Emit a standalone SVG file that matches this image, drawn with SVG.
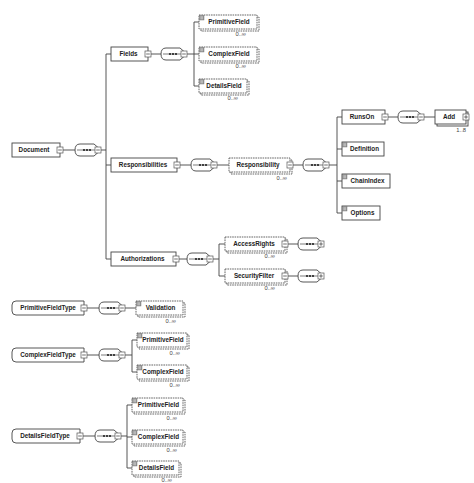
<svg xmlns="http://www.w3.org/2000/svg" xmlns:xlink="http://www.w3.org/1999/xlink" width="474" height="483" viewBox="0 0 474 483">
<style>
.bg{fill:#fff}
.el{fill:#fff;stroke:#444;stroke-width:0.9}
.opt{fill:#fff;stroke:#555;stroke-width:0.9;stroke-dasharray:1.6,0.8}
.ct{fill:#fff;stroke:#444;stroke-width:0.9}
.lbl{font-family:"Liberation Sans",Arial,sans-serif;font-weight:bold;font-size:6.3px;fill:#222;text-anchor:middle}
.occ{font-family:"Liberation Sans",Arial,sans-serif;font-size:5.8px;fill:#444;text-anchor:end}
.cn{fill:none;stroke:#444;stroke-width:0.9}
</style>
<defs>
<g id="minus"><rect x="-3" y="-3" width="6" height="6" fill="#fff" stroke="#555" stroke-width="0.7"/><path d="M-1.8,0H1.8" stroke="#333" stroke-width="0.7"/></g>
<g id="plus"><rect x="-3" y="-3" width="6" height="6" fill="#fff" stroke="#555" stroke-width="0.7"/><path d="M-1.8,0H1.8M0,-1.8V1.8" stroke="#333" stroke-width="0.7"/></g>
<g id="seqbody"><path d="M5,-6H19L23,-2.5V2.5L19,6H5Q0,6 0,0Q0,-6 5,-6Z" fill="#fff" stroke="#444" stroke-width="0.9"/><path d="M2,0H21" stroke="#444" stroke-width="0.7"/><circle cx="9" cy="0" r="1.1" fill="#222"/><circle cx="12" cy="0" r="1.1" fill="#222"/><circle cx="15" cy="0" r="1.1" fill="#222"/></g>
<g id="seq"><use xlink:href="#seqbody"/><use xlink:href="#minus" x="23"/></g>
<g id="seqc"><use xlink:href="#seqbody"/><use xlink:href="#plus" x="23"/></g>
<g id="ico"><rect x="0" y="0" width="4.5" height="4.5" fill="#999" stroke="#666" stroke-width="0.4"/><path d="M1,1.3H3.5M1,2.3H3.5M1,3.3H3.5" stroke="#eee" stroke-width="0.4"/></g>
</defs>
<rect class="bg" width="474" height="483"/>

<g id="connectors">
<path class="cn" d="M63,150H75M101,150H106M106,54V259M106,54H111M106,165H111M106,259H111"/>
<path class="cn" d="M151,54H161M187,54H194M194,22V86M194,22H199M194,54H199M194,86H199"/>
<path class="cn" d="M180,165H191M217,165H229M293,165H303M329,165H337M337,117V213M337,117H342M337,149H342M337,181H342M337,213H342"/>
<path class="cn" d="M388,117H398M424,117H435"/>
<path class="cn" d="M179,259H187M213,259H219M219,244V276M219,244H225M219,276H225M288,244H298M288,276H298"/>
<path class="cn" d="M87,308H99M125,308H136"/>
<path class="cn" d="M87,355H99M125,355H132M132,340V372M132,340H137M132,372H137"/>
<path class="cn" d="M83,436H95M121,436H127M127,405V468M127,405H132M127,437H132M127,468H132"/>
</g>

<g id="Document"><rect class="el" x="12" y="143" width="48" height="14"/><text class="lbl" x="34" y="152.3">Document</text><use xlink:href="#minus" x="60" y="150"/></g>
<g id="seq-Document"><use xlink:href="#seq" x="75" y="150"/></g>

<g id="Fields"><rect class="el" x="111" y="47" width="37" height="14"/><text class="lbl" x="128.5" y="56.3">Fields</text><use xlink:href="#minus" x="148" y="54"/></g>
<g id="seq-Fields"><use xlink:href="#seq" x="161" y="54"/></g>
<g id="Fields-PrimitiveField"><rect class="opt" x="201" y="17" width="58" height="14"/><rect class="opt" x="199" y="15" width="58" height="14"/><use xlink:href="#ico" x="199.5" y="15.5"/><text class="lbl" x="229" y="24.3">PrimitiveField</text><text class="occ" x="246" y="36">0..∞</text></g>
<g id="Fields-ComplexField"><rect class="opt" x="201" y="49" width="58" height="14"/><rect class="opt" x="199" y="47" width="58" height="14"/><use xlink:href="#ico" x="199.5" y="47.5"/><text class="lbl" x="229" y="56.3">ComplexField</text><text class="occ" x="246" y="68">0..∞</text></g>
<g id="Fields-DetailsField"><rect class="opt" x="201" y="81" width="48" height="14"/><rect class="opt" x="199" y="79" width="48" height="14"/><use xlink:href="#ico" x="199.5" y="79.5"/><text class="lbl" x="224" y="88.3">DetailsField</text><text class="occ" x="238" y="100">0..∞</text></g>

<g id="Responsibilities"><rect class="el" x="111" y="158" width="66" height="14"/><text class="lbl" x="143" y="167.3">Responsibilities</text><use xlink:href="#minus" x="177" y="165"/></g>
<g id="seq-Responsibilities"><use xlink:href="#seq" x="191" y="165"/></g>
<g id="Responsibility"><rect class="opt" x="231" y="160" width="61" height="14"/><rect class="opt" x="229" y="158" width="61" height="14"/><text class="lbl" x="258" y="167.3">Responsibility</text><use xlink:href="#minus" x="290" y="165"/><text class="occ" x="287" y="180">0..∞</text></g>
<g id="seq-Responsibility"><use xlink:href="#seq" x="303" y="165"/></g>

<g id="RunsOn"><rect class="el" x="342" y="110" width="43" height="14"/><text class="lbl" x="362" y="119.3">RunsOn</text><use xlink:href="#minus" x="385" y="117"/></g>
<g id="seq-RunsOn"><use xlink:href="#seq" x="398" y="117"/></g>
<g id="Add"><rect class="el" x="437" y="112" width="31" height="14"/><rect class="el" x="435" y="110" width="31" height="14"/><text class="lbl" x="449" y="119.3">Add</text><use xlink:href="#plus" x="466" y="117"/><text class="occ" x="466" y="132">1..8</text></g>
<g id="Definition"><rect class="el" x="342" y="142" width="42" height="14"/><use xlink:href="#ico" x="342.5" y="142.5"/><text class="lbl" x="364.5" y="151.3">Definition</text></g>
<g id="ChainIndex"><rect class="el" x="342" y="174" width="48" height="14"/><use xlink:href="#ico" x="342.5" y="174.5"/><text class="lbl" x="367.5" y="183.3">ChainIndex</text></g>
<g id="Options"><rect class="el" x="342" y="206" width="38" height="14"/><use xlink:href="#ico" x="342.5" y="206.5"/><text class="lbl" x="362.5" y="215.3">Options</text></g>

<g id="Authorizations"><rect class="el" x="111" y="252" width="65" height="14"/><text class="lbl" x="142.5" y="261.3">Authorizations</text><use xlink:href="#minus" x="176" y="259"/></g>
<g id="seq-Authorizations"><use xlink:href="#seq" x="187" y="259"/></g>
<g id="AccessRights"><rect class="opt" x="227" y="239" width="60" height="14"/><rect class="opt" x="225" y="237" width="60" height="14"/><text class="lbl" x="254" y="246.3">AccessRights</text><use xlink:href="#minus" x="285" y="244"/><text class="occ" x="275" y="258">0..∞</text></g>
<g id="seq-AccessRights"><use xlink:href="#seqc" x="298" y="244"/></g>
<g id="SecurityFilter"><rect class="opt" x="227" y="271" width="60" height="14"/><rect class="opt" x="225" y="269" width="60" height="14"/><text class="lbl" x="254" y="278.3">SecurityFilter</text><use xlink:href="#minus" x="285" y="276"/><text class="occ" x="275" y="290">0..∞</text></g>
<g id="seq-SecurityFilter"><use xlink:href="#seqc" x="298" y="276"/></g>

<g id="PrimitiveFieldType"><path class="ct" d="M16,301H84V315H16Q12,315 12,311V305Q12,301 16,301Z"/><text class="lbl" x="48" y="310.3">PrimitiveFieldType</text><use xlink:href="#minus" x="84" y="308"/></g>
<g id="seq-PrimitiveFieldType"><use xlink:href="#seq" x="99" y="308"/></g>
<g id="Validation"><rect class="opt" x="138" y="303" width="47" height="14"/><rect class="opt" x="136" y="301" width="47" height="14"/><use xlink:href="#ico" x="136.5" y="301.5"/><text class="lbl" x="160.5" y="310.3">Validation</text><text class="occ" x="176" y="323">0..∞</text></g>

<g id="ComplexFieldType"><path class="ct" d="M16,348H84V362H16Q12,362 12,358V352Q12,348 16,348Z"/><text class="lbl" x="48" y="357.3">ComplexFieldType</text><use xlink:href="#minus" x="84" y="355"/></g>
<g id="seq-ComplexFieldType"><use xlink:href="#seq" x="99" y="355"/></g>
<g id="CFT-PrimitiveField"><rect class="opt" x="139" y="335" width="50" height="14"/><rect class="opt" x="137" y="333" width="50" height="14"/><use xlink:href="#ico" x="137.5" y="333.5"/><text class="lbl" x="163" y="342.3">PrimitiveField</text><text class="occ" x="180" y="355">0..∞</text></g>
<g id="CFT-ComplexField"><rect class="opt" x="139" y="367" width="50" height="14"/><rect class="opt" x="137" y="365" width="50" height="14"/><use xlink:href="#ico" x="137.5" y="365.5"/><text class="lbl" x="163" y="374.3">ComplexField</text><text class="occ" x="180" y="387">0..∞</text></g>

<g id="DetailsFieldType"><path class="ct" d="M16,429H80V443H16Q12,443 12,439V433Q12,429 16,429Z"/><text class="lbl" x="45" y="438.3">DetailsFieldType</text><use xlink:href="#minus" x="80" y="436"/></g>
<g id="seq-DetailsFieldType"><use xlink:href="#seq" x="95" y="436"/></g>
<g id="DFT-PrimitiveField"><rect class="opt" x="134" y="400" width="51" height="14"/><rect class="opt" x="132" y="398" width="51" height="14"/><use xlink:href="#ico" x="132.5" y="398.5"/><text class="lbl" x="158.5" y="407.3">PrimitiveField</text><text class="occ" x="177" y="419.5">0..∞</text></g>
<g id="DFT-ComplexField"><rect class="opt" x="134" y="432" width="51" height="14"/><rect class="opt" x="132" y="430" width="51" height="14"/><use xlink:href="#ico" x="132.5" y="430.5"/><text class="lbl" x="158.5" y="439.3">ComplexField</text><text class="occ" x="177" y="451.5">0..∞</text></g>
<g id="DFT-DetailsField"><rect class="opt" x="134" y="463" width="47" height="14"/><rect class="opt" x="132" y="461" width="47" height="14"/><use xlink:href="#ico" x="132.5" y="461.5"/><text class="lbl" x="156.5" y="470.3">DetailsField</text><text class="occ" x="172" y="482">0..∞</text></g>
</svg>
